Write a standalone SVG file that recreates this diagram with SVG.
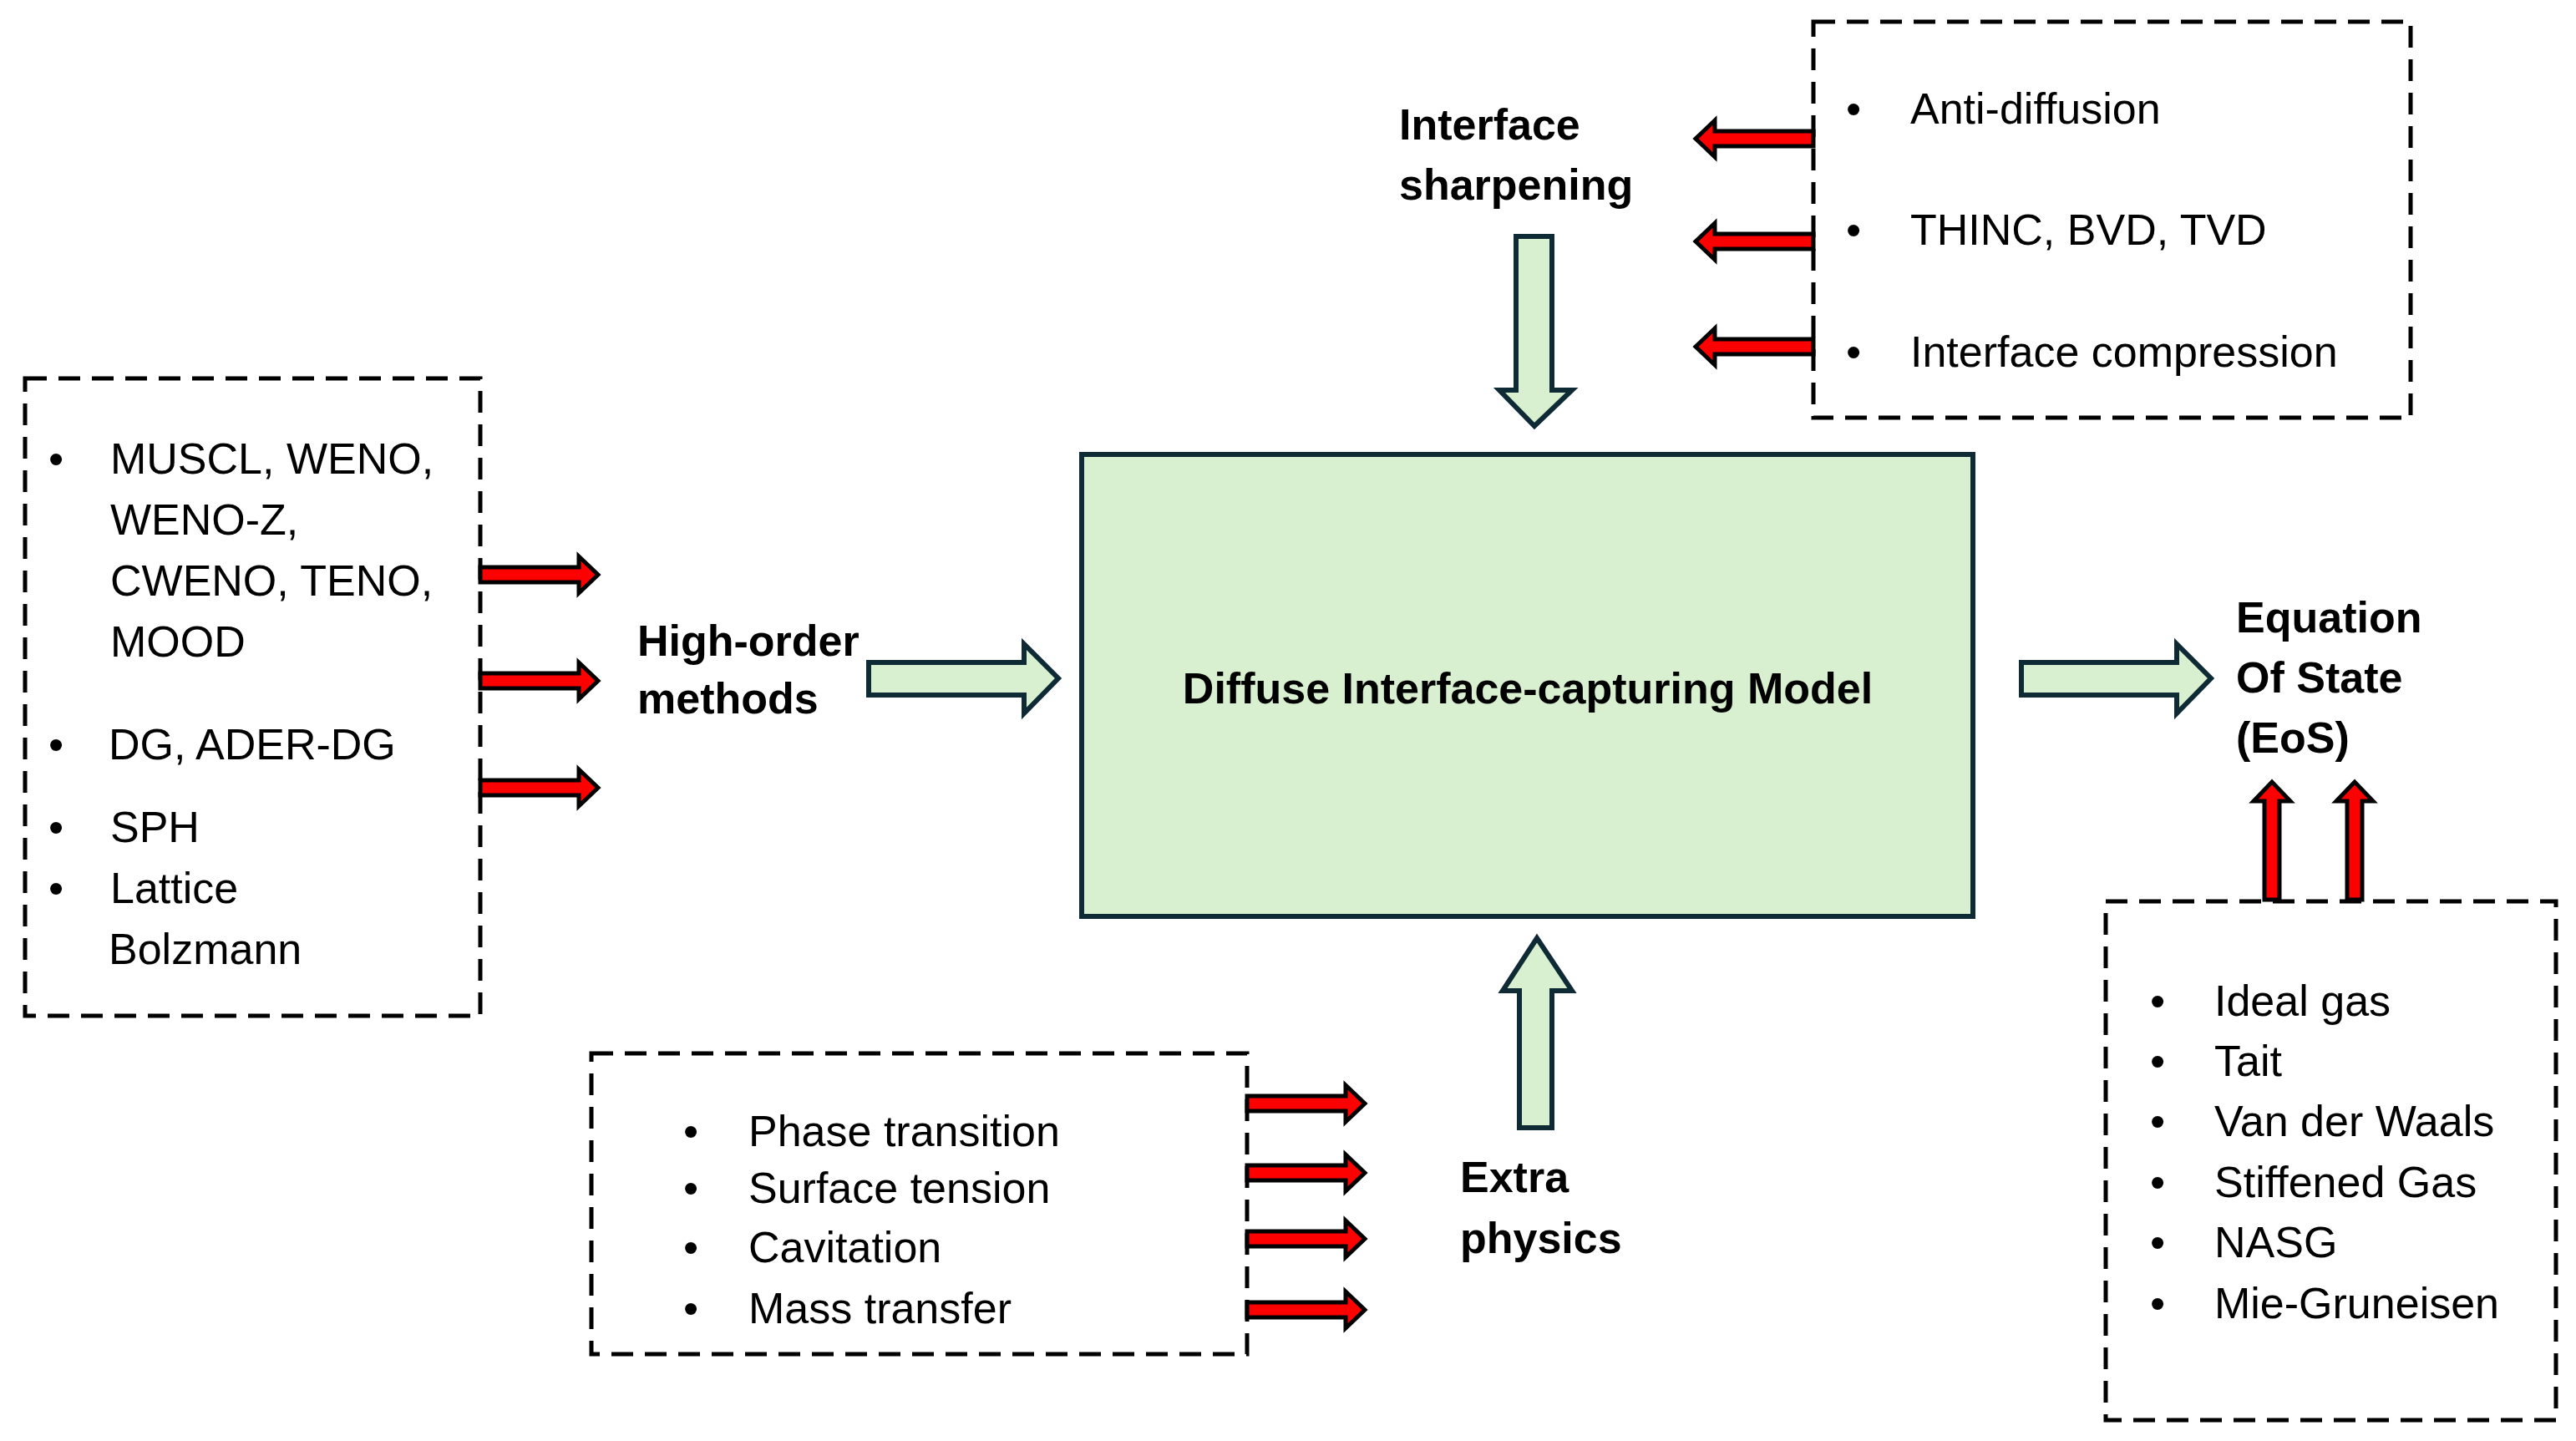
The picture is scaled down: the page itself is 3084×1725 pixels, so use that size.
<svg xmlns="http://www.w3.org/2000/svg" width="3084" height="1725" viewBox="0 0 3084 1725">
<style>
.t{font-family:"Liberation Sans",Arial,sans-serif;font-size:52px;fill:#000}
.b{font-family:"Liberation Sans",Arial,sans-serif;font-size:52px;font-weight:bold;fill:#000}
.d{fill:none;stroke:#000;stroke-width:5;stroke-dasharray:26,14}
.g{fill:#d9f0d0;stroke:#0e2a35;stroke-width:6}
.r{fill:#f00;stroke:#000;stroke-width:5}
</style>
<rect width="3084" height="1725" fill="#fff"/>
<defs>
<path id="ra" d="M0,-9 H118 V-22 L141,0 L118,22 V9 H0 Z"/>
</defs>
<g id="center"><rect x="1295" y="544" width="1067" height="553" class="g"/>
<text class="b" x="1829" y="842" text-anchor="middle">Diffuse Interface-capturing Model</text></g>
<g id="methods"><rect x="30" y="453" width="545" height="763" class="d"/>
<g class="t"><text x="58" y="567">•</text><text x="132" y="567">MUSCL, WENO,</text><text x="132" y="640">WENO-Z,</text><text x="132" y="713">CWENO, TENO,</text><text x="132" y="786">MOOD</text>
<text x="58" y="909">•</text><text x="130" y="909">DG, ADER-DG</text><text x="58" y="1008">•</text><text x="132" y="1008">SPH</text><text x="58" y="1081">•</text><text x="132" y="1081">Lattice</text><text x="130" y="1154">Bolzmann</text></g></g>
<g id="highorder"><text class="b" x="763" y="785">High-order</text><text class="b" x="763" y="854">methods</text></g>
<g id="sharpbox"><rect x="2171" y="26" width="715" height="474" class="d"/>
<g class="t"><text x="2210" y="148">•</text><text x="2287" y="148">Anti-diffusion</text><text x="2210" y="293">•</text><text x="2287" y="293">THINC, BVD, TVD</text><text x="2210" y="439">•</text><text x="2287" y="439">Interface compression</text></g></g>
<g id="sharpening"><text class="b" x="1675" y="167">Interface</text><text class="b" x="1675" y="239">sharpening</text></g>
<g id="eos"><text class="b" x="2677" y="757">Equation</text><text class="b" x="2677" y="829">Of State</text><text class="b" x="2677" y="901">(EoS)</text></g>
<g id="eosbox"><rect x="2521" y="1079" width="539" height="621" class="d"/>
<g class="t"><text x="2574" y="1216">•</text><text x="2651" y="1216">Ideal gas</text><text x="2574" y="1288">•</text><text x="2651" y="1288">Tait</text><text x="2574" y="1360">•</text><text x="2651" y="1360">Van der Waals</text><text x="2574" y="1433">•</text><text x="2651" y="1433">Stiffened Gas</text><text x="2574" y="1505">•</text><text x="2651" y="1505">NASG</text><text x="2574" y="1578">•</text><text x="2651" y="1578">Mie-Gruneisen</text></g></g>
<g id="physbox"><rect x="708" y="1261" width="785" height="360" class="d"/>
<g class="t"><text x="818" y="1372">•</text><text x="896" y="1372">Phase transition</text><text x="818" y="1440">•</text><text x="896" y="1440">Surface tension</text><text x="818" y="1511">•</text><text x="896" y="1511">Cavitation</text><text x="818" y="1584">•</text><text x="896" y="1584">Mass transfer</text></g></g>
<g id="extra"><text class="b" x="1748" y="1427">Extra</text><text class="b" x="1748" y="1500">physics</text></g>
<g id="connectors">
<path class="g" d="M1040,793 H1226 V771 L1267,812 L1226,854 V832 H1040 Z"/>
<path class="g" d="M2420,793 H2606 V771 L2647,812 L2606,854 V832 H2420 Z"/>
<path class="g" d="M1815,283 H1858 V467 H1882 L1837,510 L1795,467 H1815 Z"/>
<path class="g" d="M1819,1350 H1858 V1186 H1882 L1840,1123 L1799,1186 H1819 Z"/>
<use href="#ra" class="r" transform="translate(575,688)"/>
<use href="#ra" class="r" transform="translate(575,815)"/>
<use href="#ra" class="r" transform="translate(575,943)"/>
<use href="#ra" class="r" transform="translate(1493,1321)"/>
<use href="#ra" class="r" transform="translate(1493,1404)"/>
<use href="#ra" class="r" transform="translate(1493,1483)"/>
<use href="#ra" class="r" transform="translate(1493,1568)"/>
<use href="#ra" class="r" transform="translate(2171,166) scale(-1,1)"/>
<use href="#ra" class="r" transform="translate(2171,289) scale(-1,1)"/>
<use href="#ra" class="r" transform="translate(2171,415) scale(-1,1)"/>
<use href="#ra" class="r" transform="translate(2720,1077) rotate(-90)"/>
<use href="#ra" class="r" transform="translate(2819,1077) rotate(-90)"/>
</g>
</svg>
